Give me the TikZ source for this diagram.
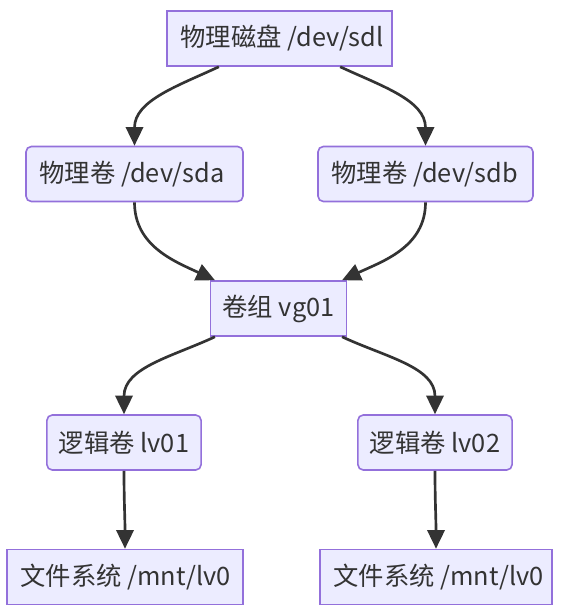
\documentclass[tikz,border=0pt]{standalone}
\usepackage{fontspec}
\setmainfont{Noto Sans CJK SC}
\usetikzlibrary{arrows.meta}

\definecolor{boxfill}{HTML}{ECECFF}
\definecolor{boxline}{HTML}{9370DB}
\definecolor{ink}{HTML}{333333}

\tikzset{
  every node/.style={draw=boxline,fill=boxfill,text=ink,line width=1.2pt,
    minimum height=41.25pt,inner xsep=9pt,inner ysep=0pt,
    font=\fontsize{19}{22}\selectfont},
  soft/.style={rounded corners=4pt},
  wd/.style={minimum width=#1},
  txt/.style={draw=none,fill=none,anchor=west,inner sep=0pt,
    minimum width=0pt,minimum height=0pt},
  cut/.style={path picture={
    \node [txt] at ([xshift=9.5pt]path picture bounding box.west) {#1};}},
  edge/.style={ink,line width=2pt,-{Triangle[length=14pt,width=13pt]}}
}

\begin{document}
\begin{tikzpicture}[x=0.75pt,y=-0.75pt]
      \useasboundingbox (0,0) rectangle (562,613);
      \node [wd=168.75pt,cut={物理磁盘 /dev/sdl}] (disk) at (279.5,38.5) {};
      \node [soft,wd=162.75pt,cut={物理卷 /dev/sda}] (pva) at (134.5,174) {};
      \node [soft,wd=161.25pt,cut={物理卷 /dev/sdb}] (pvb) at (425.5,174) {};
      \node [wd=101.25pt] (vg) at (278.5,308.5) {卷组 vg01};
      \node [soft,wd=114pt] (lva) at (124,442.5) {逻辑卷 lv01};
      \node [soft,wd=114pt] (lvb) at (435,442.5) {逻辑卷 lv02};
      \node [wd=177pt,cut={文件系统 /mnt/lv0}] (fsa) at (125,577) {};
      \node [wd=174pt,cut={文件系统 /mnt/lv0}] (fsb) at (436,577) {};

      \foreach \from/\to/\o/\i in {disk.-155/pva.north/-155/90,disk.-25/pvb.north/-25/90,
          pva.south/vg.156/-90/155,pvb.south/vg.24/-90/25,
          vg.-156/lva.north/-155/90,vg.-24/lvb.north/-25/90,
          lva.south/fsa.north/-90/90,lvb.south/fsb.north/-90/90}
        \draw [edge] (\from) to[out=\o,in=\i] (\to);
    \end{tikzpicture}
\end{document}
